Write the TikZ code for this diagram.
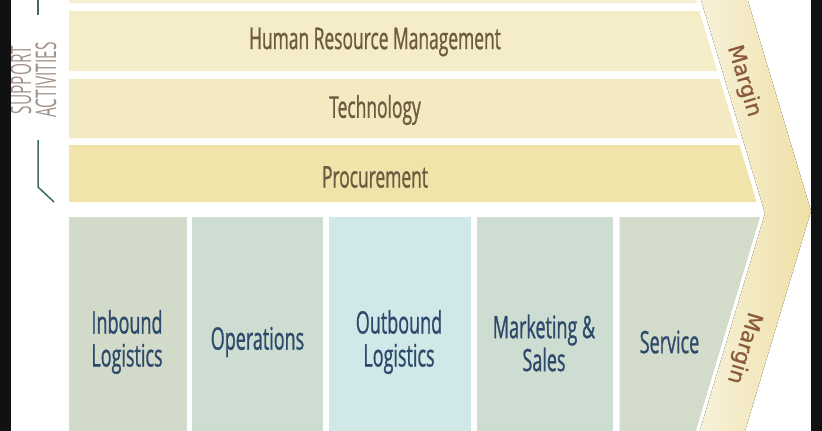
\documentclass[tikz,border=0pt]{standalone}
\usepackage{fontspec}
\setmainfont{Open Sans}
\newfontfamily\condfont[FakeStretch=0.58,FakeBold=0.8]{Open Sans}
\newfontfamily\narrowfont[FakeStretch=0.54]{Open Sans}
\newfontfamily\marginfont[FakeBold=0.6]{DejaVu Sans}
\definecolor{edgeblack}{HTML}{111111}
\definecolor{topbarcol}{HTML}{F6F0D5}
\definecolor{hrmcol}{HTML}{F5EDC8}
\definecolor{techcol}{HTML}{F3EAC2}
\definecolor{proccol}{HTML}{F0E4AA}
\definecolor{inbcol}{HTML}{D2DBCA}
\definecolor{opscol}{HTML}{CEDDD2}
\definecolor{outcol}{HTML}{D1E8E9}
\definecolor{mktcol}{HTML}{CEDDD1}
\definecolor{srvcol}{HTML}{D3DCCB}
\definecolor{suptext}{HTML}{6E5A3F}
\definecolor{pritext}{HTML}{2D4A6B}
\definecolor{margtext}{HTML}{8A5A3A}
\definecolor{sidetext}{HTML}{A39289}
\definecolor{bracketcol}{HTML}{3C6E5E}
\definecolor{bandlight}{HTML}{F7F1DA}
\definecolor{banddark}{HTML}{EFE0A6}
\begin{document}
\begin{tikzpicture}[x=1pt,y=-1pt,
  sup/.style={inner sep=0pt, text=suptext, font=\condfont\fontsize{30}{34}\selectfont},
  pri/.style={inner sep=0pt, text=pritext, align=center, font=\condfont\fontsize{31}{33}\selectfont},
  marg/.style={inner sep=0pt, text=margtext, font=\marginfont\fontsize{21.5}{24}\selectfont},
  sidelabel/.style={inner sep=0pt, text=sidetext, align=center, font=\narrowfont\fontsize{28.5}{25}\selectfont},
  bracket/.style={draw=bracketcol, line width=1.5pt}]
\useasboundingbox (0,0) rectangle (822,431);
\fill[white] (0,0) rectangle (822,431);
% margin chevron band
\fill[left color=bandlight, right color=banddark]
  (699.5,-5) -- (746.2,-5) -- (811,211) -- (743.5,436) -- (698.2,436) -- (765,213.3) -- cycle;
% support activity bars
\fill[topbarcol] (69,-5) -- (694.5,-5) -- (696.9,3) -- (69,3) -- cycle;
\fill[hrmcol] (69,11) -- (699.3,11) -- (717.3,71) -- (69,71) -- cycle;
\fill[techcol] (69,79) -- (719.7,79) -- (737.4,138) -- (69,138) -- cycle;
\fill[proccol] (69,145) -- (739.5,145) -- (756.6,202) -- (69,202) -- cycle;
% primary activity columns
\fill[inbcol] (69,217) rectangle (187,436);
\fill[opscol] (191.5,217) rectangle (323,436);
\fill[outcol] (329,217) rectangle (471,436);
\fill[mktcol] (477,217) rectangle (612.5,436);
\fill[srvcol] (619.5,217) -- (760,217) -- (694.3,436) -- (619.5,436) -- cycle;
% texts
\node[sup] (hrm) at (375,42) {Human Resource Management};
\node[sup] (tech) at (375,110) {Technology};
\node[sup] (proc) at (375,177) {Procurement};
\node[pri] (inb) at (127,342) {Inbound\\Logistics};
\node[pri] (ops) at (257.5,342) {Operations};
\node[pri] (outb) at (399,342) {Outbound\\Logistics};
\node[pri] (mkt) at (544,343) {Marketing \&\\Sales};
\node[pri] (srv) at (669.5,342) {Service};
\node[marg, rotate=-73.3] (m1) at (744,81) {Margin};
\node[marg, rotate=-106.7] (m2) at (744,348) {Margin};
\node[sidelabel, rotate=90] (sa) at (33.5,80) {SUPPORT\\ACTIVITIES};
% bracket
\draw[bracket] (38,-2) -- (38,15);
\draw[bracket] (38,140) -- (38,187) -- (54,202);
% black edges
\fill[edgeblack] (0,0) rectangle (11,431);
\fill[edgeblack] (811,0) rectangle (822,431);
\end{tikzpicture}
\end{document}
